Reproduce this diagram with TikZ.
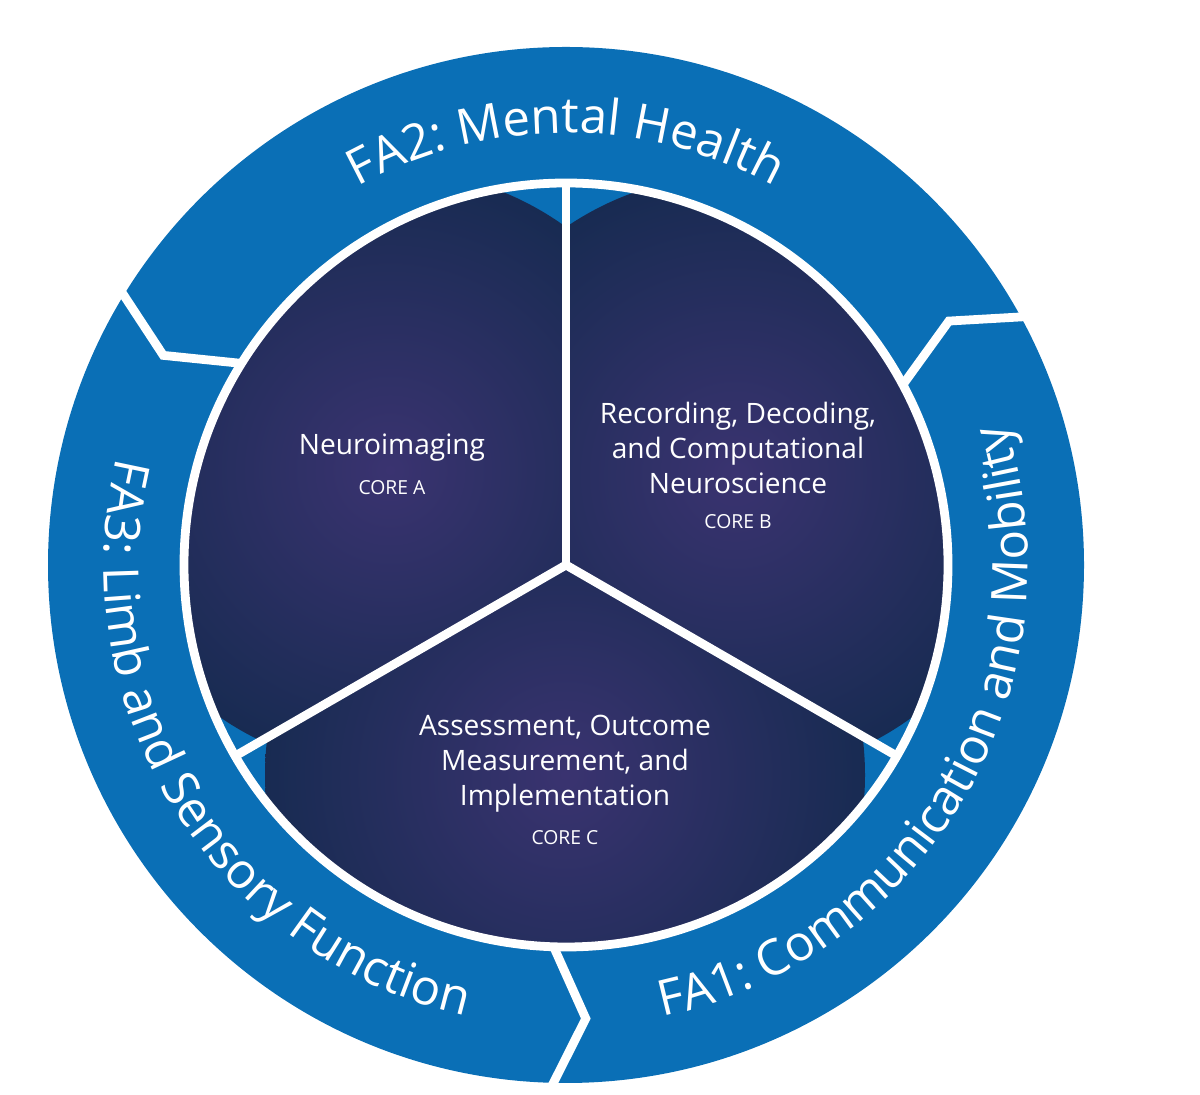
\documentclass[tikz,border=0pt]{standalone}
\usepackage{fontspec}
\setmainfont{Open Sans}
\usetikzlibrary{decorations.text,calc}
\definecolor{ringblue}{HTML}{0A6FB6}
\definecolor{navy}{HTML}{182B52}
\definecolor{glow}{HTML}{3A3370}
\tikzset{
  sep/.style={white,line width=5pt,line join=miter},
  spoke/.style={white,line width=5pt},
  coretxt/.style={white,align=center,font=\fontsize{16}{20}\selectfont},
  corelab/.style={white,font=\fontsize{11}{13}\selectfont},
  ringtxt/.style={decorate,decoration={text along path,text align=center,
     text={|\fontsize{28}{28}\selectfont\color{white}|#1}}}
}
\begin{document}
\begin{tikzpicture}[x=0.02cm,y=0.02cm]
\useasboundingbox (0,0) rectangle (1200,1095);
\coordinate (C) at (566,530);
% ring
\fill[ringblue] (C) circle (518);
% chevrons
\foreach \a in {28,148,268}{
  \draw[sep] ($(C)+(\a:380)$) -- ($(C)+(\a+4.5:454)$) -- ($(C)+(\a:530)$);
}
% core sectors
\foreach \s/\e/\gx/\gy in {90/210/390/625, -30/90/735/620, 210/330/565/320}{
  \begin{scope}
    \clip (C) -- ($(C)+(\s:382)$) arc[start angle=\s,end angle=\e,radius=382] -- cycle;
    \shade[inner color=glow,outer color=navy] (\gx,\gy) circle (300);
  \end{scope}
}
\draw[white,line width=5pt] (C) circle (382);
\foreach \a in {90,210,330}{\draw[spoke] (C) -- ($(C)+(\a:384)$);}
% core texts
\node[coretxt] (na) at (392,647) {Neuroimaging};
\node[corelab] (la) at (392,607) {CORE A};
\node[coretxt] (nb) at (738,647) {Recording, Decoding,\\and Computational\\Neuroscience};
\node[corelab] (lb) at (738,573) {CORE B};
\node[coretxt] (nc) at (565,331) {Assessment, Outcome\\Measurement, and\\Implementation};
\node[corelab] (lc) at (565,257) {CORE C};
% ring texts
\path[ringtxt={FA2: Mental Health}] ($(C)+(130:432)$) arc[start angle=130,end angle=50,radius=432];
\path[ringtxt={FA1: Communication and Mobility}] ($(C)+(-85:462)$) arc[start angle=-85,end angle=25,radius=462];
\path[ringtxt={FA3: Limb and Sensory Function}] ($(C)+(158:462)$) arc[start angle=158,end angle=266,radius=462];
\end{tikzpicture}
\end{document}
